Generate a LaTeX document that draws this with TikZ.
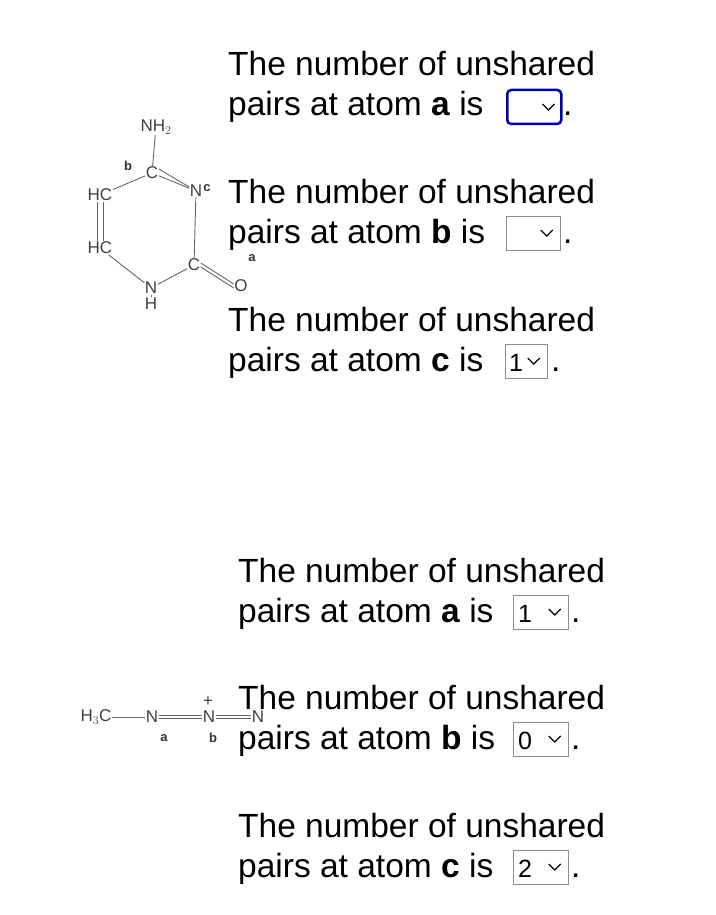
\documentclass[tikz,border=0pt]{standalone}
\usepackage{fontspec}
\setmainfont{Liberation Sans}
\usetikzlibrary{positioning, calc}
\tikzstyle{question} = [anchor=base west, inner sep=0pt, font=\fontsize{33.5}{36}\selectfont]
\tikzstyle{digit} = [anchor=base west, inner sep=0pt, font=\fontsize{25}{30}\selectfont]
\tikzstyle{atom} = [inner sep=0.5pt, font=\fontsize{17}{17}\selectfont, text=black!75]
\tikzstyle{tag} = [inner sep=0pt, font=\bfseries\fontsize{13}{13}\selectfont, text=black!80]
\tikzstyle{bond} = [black!60, line width=0.9pt]
\tikzstyle{menu} = [draw=black!45, line width=0.8pt, minimum height=34pt, inner sep=0pt]
\newcommand{\chev}[1]{\draw[line width=1.2pt] ($(#1.east)+(-20,-3)$) -- ++(6,6) -- ++(6,-6);}

\begin{document}
\begin{tikzpicture}[x=1pt, y=-1pt]
	\useasboundingbox (0,0) rectangle (715,915);

	% Questions, first molecule
	\node (q1a) [question] at (228,76) {The number of unshared};
	\node (q1b) [question] at (228,116) {pairs at atom \textbf{a} is};
	\node (m1a) [menu, draw=blue!70!black, line width=2.5pt, rounded corners=4pt, minimum width=54pt, anchor=west] at (506,107) {};
	\node [question] at (563,116) {.};
	\node (q2a) [question] at (228,203) {The number of unshared};
	\node (q2b) [question] at (228,243) {pairs at atom \textbf{b} is};
	\node (m1b) [menu, minimum width=54pt, anchor=west] at (506,233) {};
	\node [question] at (563,243) {.};
	\node (q3a) [question] at (228,331) {The number of unshared};
	\node (q3b) [question] at (228,371) {pairs at atom \textbf{c} is};
	\node (m1c) [menu, minimum width=42pt, anchor=west] at (505,361) {};
	\node [digit] at (509,371) {1};
	\node [question] at (551,371) {.};

	% Questions, second molecule
	\node (q4a) [question] at (238,582) {The number of unshared};
	\node (q4b) [question] at (238,622) {pairs at atom \textbf{a} is};
	\node (m2a) [menu, minimum width=55pt, anchor=west] at (513,612) {};
	\node [digit] at (518,622) {1};
	\node [question] at (571,622) {.};
	\node (q5a) [question] at (238,709) {The number of unshared};
	\node (q5b) [question] at (238,749) {pairs at atom \textbf{b} is};
	\node (m2b) [menu, minimum width=55pt, anchor=west] at (513,739) {};
	\node [digit] at (518,749) {0};
	\node [question] at (571,749) {.};
	\node (q6a) [question] at (238,837) {The number of unshared};
	\node (q6b) [question] at (238,877) {pairs at atom \textbf{c} is};
	\node (m2c) [menu, minimum width=55pt, anchor=west] at (513,867) {};
	\node [digit] at (518,877) {2};
	\node [question] at (571,877) {.};

	\chev{m1a} \chev{m1b} \chev{m1c} \chev{m2a} \chev{m2b} \chev{m2c}

	% Cytosine
	\node (nh2) [atom] at (156,127) {NH$_2$};
	\node (c4) [atom] at (152,173) {C};
	\node (n3) [atom] at (196,191) {N};
	\node (c5) [atom] at (100,195) {HC};
	\node (c6) [atom] at (100,248) {HC};
	\node (n1) [atom] at (151,288) {N};
	\node (h1) [atom] at (151,304) {H};
	\node (c2) [atom] at (194,265) {C};
	\node (o2) [atom] at (241,286) {O};
	\node [tag] at (128,166) {b};
	\node [tag] at (207,188) {c};
	\node [tag] at (252,258) {a};

	\draw[bond] (nh2) -- (c4);
	\draw[bond] (c4) -- (c5);
	\draw[bond] (c4) -- (n3);
	\draw[bond] ([yshift=4pt]c4.east) -- ([yshift=4pt]n3.west);
	\draw[bond] (n3) -- (c2);
	\draw[bond] (c2) -- (n1);
	\draw[bond] (n1) -- (h1);
	\draw[bond] (n1) -- (c6);
	\draw[bond] ([xshift=-3pt]c5.south) -- ([xshift=-3pt]c6.north);
	\draw[bond] ([xshift=3pt]c5.south) -- ([xshift=3pt]c6.north);
	\draw[bond] ([yshift=-2pt]c2.east) -- ([yshift=-2pt]o2.west);
	\draw[bond] ([yshift=2pt]c2.east) -- ([yshift=2pt]o2.west);

	% Methyl azide
	\node (ch3) [atom] at (96,717) {H$_3$C};
	\node (na) [atom] at (152,717) {N};
	\node (nb) [atom] at (209,717) {N};
	\node (nc) [atom] at (258,717) {N};
	\node [atom] at (208,702) {+};
	\node [tag] at (164,738) {a};
	\node [tag] at (213,738) {b};

	\draw[bond] (ch3) -- (na);
	\draw[bond] ([yshift=-1.5pt]na.east) -- ([yshift=-1.5pt]nb.west);
	\draw[bond] ([yshift=1.5pt]na.east) -- ([yshift=1.5pt]nb.west);
	\draw[bond] ([yshift=-1.5pt]nb.east) -- ([yshift=-1.5pt]nc.west);
	\draw[bond] ([yshift=1.5pt]nb.east) -- ([yshift=1.5pt]nc.west);

\end{tikzpicture}
\end{document}
